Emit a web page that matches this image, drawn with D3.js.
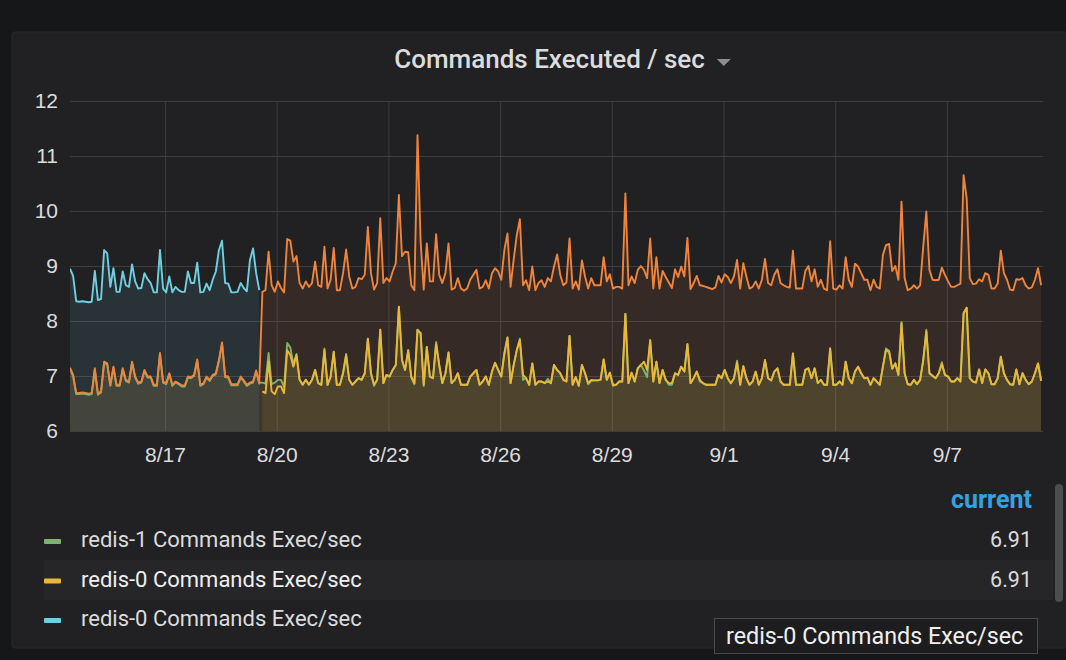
<!DOCTYPE html>
<html>
<head>
<meta charset="utf-8">
<script src="https://cdn.jsdelivr.net/npm/d3@7"></script>
<style>
  body { margin: 0; background: #161719; }
  svg { display: block; font-family: Roboto, "Helvetica Neue", Arial, sans-serif; }
</style>
</head>
<body>
<script>
// samples every 2 hours, starting 8/14 10:45
const startTime = new Date(2019, 7, 14, 10, 45);
const stepHours = 2;
const lastSlot = 313.6;   // right edge of the time range, in steps

const yTicks = [6, 7, 8, 9, 10, 11, 12];
const xTickDates = ["2019-08-17", "2019-08-20", "2019-08-23", "2019-08-26",
                    "2019-08-29", "2019-09-01", "2019-09-04", "2019-09-07"];

// redis-0 (cyan) - only the first days
const cyanValues = [
  8.95, 8.82, 8.36, 8.35, 8.36, 8.35, 8.34, 8.35, 8.91, 8.38,
  8.40, 9.29, 9.23, 8.62, 8.96, 8.53, 8.53, 8.90, 8.65, 8.62,
  9.03, 8.72, 8.59, 8.60, 8.87, 8.76, 8.69, 8.52, 8.52, 9.29,
  8.59, 8.52, 8.81, 8.52, 8.62, 8.56, 8.53, 8.53, 8.90, 8.69,
  8.69, 9.06, 8.52, 8.53, 8.68, 8.56, 8.75, 8.90, 9.29, 9.46,
  8.69, 8.68, 8.52, 8.52, 8.53, 8.69, 8.60, 8.54, 9.11, 9.32,
  8.87, 8.56
];

// orange series, whole range
const orangeValues = [
  7.15, 7.02, 6.69, 6.69, 6.70, 6.69, 6.68, 6.69, 7.14, 6.68,
  6.72, 7.26, 7.23, 6.84, 7.17, 6.84, 6.84, 7.14, 6.93, 6.90,
  7.26, 6.99, 6.88, 6.90, 7.11, 6.99, 6.99, 6.84, 6.84, 7.42,
  6.90, 6.87, 7.05, 6.84, 6.90, 6.87, 6.83, 6.83, 6.99, 6.98,
  7.02, 7.30, 6.84, 6.87, 6.99, 6.93, 7.02, 7.05, 7.29, 7.61,
  7.00, 6.99, 6.85, 6.85, 6.85, 6.99, 6.92, 6.84, 6.88, 6.90,
  7.10, 6.86,
  8.53, 8.56, 9.26, 8.65, 8.53, 8.72, 8.60, 8.52, 9.49, 9.46,
  9.08, 9.18, 8.69, 8.59, 8.72, 8.62, 8.69, 9.08, 8.65, 8.62,
  9.35, 8.59, 8.75, 9.33, 8.56, 8.56, 8.87, 9.30, 8.81, 8.59,
  8.62, 8.78, 8.76, 8.84, 9.71, 8.87, 8.57, 8.69, 9.87, 8.69,
  8.78, 8.72, 8.90, 9.05, 10.29, 9.18, 9.26, 9.25, 8.65, 8.56,
  11.38, 9.45, 8.57, 9.41, 8.72, 8.72, 9.58, 8.84, 8.69, 8.87,
  9.41, 8.57, 8.60, 8.78, 8.59, 8.55, 8.59, 8.75, 8.84, 8.93,
  8.59, 8.62, 8.74, 8.59, 8.87, 8.96, 8.90, 8.75, 9.29, 9.59,
  8.62, 9.12, 9.56, 9.85, 8.65, 8.74, 8.56, 8.99, 8.56, 8.69,
  8.74, 8.62, 8.78, 8.72, 8.99, 9.21, 8.84, 8.65, 8.70, 9.50,
  8.59, 8.72, 8.57, 9.10, 8.81, 8.59, 8.78, 8.65, 8.65, 8.65,
  9.16, 8.72, 8.85, 8.59, 8.62, 8.62, 8.59, 10.32, 8.65, 8.81,
  8.69, 8.93, 9.00, 8.93, 8.78, 9.50, 8.59, 9.16, 8.59, 8.91,
  8.80, 8.70, 8.60, 8.94, 8.80, 8.99, 8.81, 9.51, 8.58, 8.69,
  8.82, 8.65, 8.64, 8.62, 8.60, 8.58, 8.61, 8.82, 8.70, 8.85,
  8.80, 8.69, 8.81, 9.11, 8.59, 9.05, 8.81, 8.59, 8.62, 8.72,
  8.59, 8.75, 9.13, 8.69, 8.65, 8.84, 8.94, 8.69, 8.65, 8.62,
  8.61, 9.28, 8.59, 8.59, 8.59, 8.91, 9.00, 8.72, 8.94, 8.62,
  8.75, 8.59, 8.56, 9.45, 8.59, 8.57, 8.65, 8.59, 9.16, 8.75,
  8.62, 9.04, 8.99, 8.87, 8.75, 8.75, 8.56, 8.75, 8.62, 8.59,
  9.20, 9.38, 9.40, 8.91, 9.00, 8.75, 10.17, 8.78, 8.56, 8.59,
  8.65, 8.59, 8.65, 9.35, 9.99, 8.93, 8.75, 8.74, 8.75, 8.97,
  8.84, 8.72, 8.62, 8.62, 8.65, 8.68, 10.65, 10.23, 8.78, 8.67,
  8.68, 8.76, 8.72, 8.87, 8.84, 8.59, 8.59, 8.68, 9.28, 8.87,
  8.75, 8.57, 8.56, 8.76, 8.75, 8.78, 8.65, 8.59, 8.61, 8.75,
  8.96, 8.65
];

// redis-0 (yellow) starts at step 62
const yellowStart = 62;
const yellowValues = [
  6.72, 6.69, 7.26, 6.72, 6.67, 6.81, 6.81, 6.69, 7.47, 7.38,
  7.17, 7.38, 6.93, 6.84, 6.93, 6.84, 6.93, 7.11, 6.87, 6.84,
  7.47, 6.84, 6.99, 7.44, 6.84, 6.84, 7.05, 7.38, 6.93, 6.84,
  6.90, 6.96, 6.93, 7.05, 7.68, 7.05, 6.84, 6.93, 7.84, 6.87,
  7.02, 6.99, 7.11, 7.20, 8.26, 7.29, 7.11, 7.47, 6.99, 6.87,
  7.84, 7.78, 6.84, 7.53, 6.99, 6.96, 7.58, 7.20, 6.87, 7.05,
  7.43, 6.87, 6.93, 7.05, 6.84, 6.84, 6.84, 6.99, 7.05, 7.11,
  6.84, 6.90, 6.99, 6.84, 7.08, 7.24, 7.11, 6.99, 7.41, 7.70,
  6.87, 7.20, 7.47, 7.65, 7.02, 6.96, 6.84, 7.23, 6.84, 6.90,
  6.90, 6.87, 6.90, 6.87, 7.20, 7.11, 7.05, 6.93, 6.90, 7.73,
  6.84, 6.98, 6.82, 7.20, 7.05, 6.87, 6.93, 6.92, 6.92, 6.93,
  7.30, 6.93, 7.06, 6.84, 6.84, 6.90, 6.90, 8.13, 6.87, 7.06,
  6.90, 7.14, 7.20, 7.26, 7.11, 7.65, 6.90, 7.26, 6.87, 7.11,
  6.93, 6.87, 6.87, 7.05, 7.02, 7.17, 7.08, 7.58, 6.87, 6.96,
  7.08, 6.93, 6.87, 6.84, 6.84, 6.84, 6.84, 7.02, 6.96, 7.11,
  6.96, 6.87, 6.96, 7.24, 6.84, 7.18, 6.96, 6.84, 6.90, 7.08,
  6.84, 6.96, 7.29, 6.96, 6.92, 7.08, 7.14, 6.90, 6.84, 6.84,
  6.84, 7.41, 6.84, 6.84, 6.84, 7.11, 7.14, 6.96, 7.14, 6.87,
  6.93, 6.84, 6.84, 7.50, 6.84, 6.84, 6.90, 6.84, 7.26, 6.96,
  6.87, 7.08, 7.17, 7.05, 6.96, 6.97, 6.84, 6.96, 6.90, 6.84,
  7.17, 7.47, 7.44, 7.13, 7.23, 7.02, 7.96, 7.05, 6.85, 6.84,
  6.93, 6.85, 6.93, 7.29, 7.81, 7.05, 7.00, 6.96, 7.05, 7.22,
  7.02, 6.99, 6.90, 6.90, 6.96, 6.90, 8.14, 8.24, 6.96, 6.90,
  6.88, 7.12, 6.87, 7.12, 7.05, 6.85, 6.85, 6.96, 7.35, 7.05,
  6.93, 6.85, 6.84, 7.12, 6.85, 7.05, 6.93, 6.85, 6.90, 7.05,
  7.23, 6.91
];

// redis-1 (green), whole range
const greenValues = [
  7.13, 7.00, 6.67, 6.67, 6.68, 6.67, 6.66, 6.67, 7.12, 6.66,
  6.70, 7.24, 7.21, 6.82, 7.15, 6.82, 6.82, 7.12, 6.91, 6.88,
  7.24, 6.97, 6.86, 6.88, 7.09, 6.97, 6.97, 6.82, 6.82, 7.40,
  6.88, 6.85, 7.03, 6.82, 6.88, 6.85, 6.81, 6.81, 6.97, 6.96,
  7.00, 7.28, 6.82, 6.85, 6.97, 6.91, 7.00, 7.03, 7.27, 7.59,
  6.98, 6.97, 6.83, 6.83, 6.83, 6.97, 6.90, 6.82, 6.86, 6.88,
  7.08, 6.88,
  6.88, 6.86, 7.42, 6.85, 6.88, 6.93, 6.93, 6.80, 7.60, 7.52,
  7.22, 7.40, 6.93, 6.84, 6.93, 6.84, 6.93, 7.11, 6.87, 6.84,
  7.50, 6.84, 6.99, 7.44, 6.84, 6.84, 7.05, 7.40, 6.93, 6.84,
  6.90, 6.96, 6.93, 7.05, 7.68, 7.05, 6.82, 6.93, 7.84, 6.87,
  7.02, 6.99, 7.11, 7.20, 8.26, 7.29, 7.11, 7.47, 6.97, 6.85,
  7.84, 7.78, 6.82, 7.53, 6.99, 6.96, 7.62, 7.20, 6.87, 7.05,
  7.43, 6.87, 6.93, 7.05, 6.84, 6.84, 6.84, 6.99, 7.05, 7.11,
  6.84, 6.90, 6.99, 6.84, 7.08, 7.24, 7.11, 6.99, 7.41, 7.70,
  6.87, 7.20, 7.47, 7.68, 6.93, 6.96, 6.84, 7.23, 6.84, 6.90,
  6.90, 6.87, 6.95, 6.87, 7.20, 7.11, 7.05, 6.93, 6.90, 7.73,
  6.84, 6.98, 6.82, 7.20, 7.05, 6.85, 6.91, 6.92, 6.92, 6.93,
  7.30, 6.93, 7.06, 6.82, 6.84, 6.90, 6.90, 8.13, 6.87, 7.06,
  6.90, 7.14, 7.20, 7.10, 6.98, 7.65, 6.90, 7.26, 6.87, 7.11,
  6.93, 6.84, 6.84, 7.05, 7.02, 7.17, 7.08, 7.58, 6.87, 6.96,
  7.08, 6.90, 6.87, 6.84, 6.84, 6.84, 6.84, 7.02, 6.96, 7.11,
  6.96, 6.87, 6.96, 7.28, 6.84, 7.18, 6.96, 6.84, 6.90, 7.08,
  6.84, 6.96, 7.29, 6.96, 6.92, 7.08, 7.14, 6.90, 6.84, 6.84,
  6.84, 7.41, 6.84, 6.84, 6.84, 7.11, 7.14, 6.96, 7.14, 6.87,
  6.93, 6.84, 6.84, 7.50, 6.84, 6.84, 6.90, 6.84, 7.26, 6.96,
  6.87, 7.08, 7.17, 7.05, 6.96, 6.97, 6.84, 6.96, 6.90, 6.84,
  7.17, 7.50, 7.46, 7.13, 7.23, 7.02, 7.98, 7.05, 6.85, 6.84,
  6.93, 6.85, 6.93, 7.29, 7.84, 7.05, 7.01, 6.96, 7.05, 7.25,
  7.02, 6.99, 6.90, 6.90, 6.96, 6.90, 8.14, 8.24, 6.96, 6.90,
  6.88, 7.12, 6.87, 7.12, 7.05, 6.85, 6.85, 6.96, 7.35, 7.05,
  6.93, 6.85, 6.84, 7.12, 6.85, 7.05, 6.93, 6.85, 6.90, 7.05,
  7.23, 6.91
];

// legend rows that are visible (the rest is scrolled away)
const legendNames = ["redis-1 Commands Exec/sec", "redis-0 Commands Exec/sec", "redis-0 Commands Exec/sec"];
const legendColors = ["#7EB26D", "#EAB839", "#6ED0E0"];
const legendCurrent = ["6.91", "6.91", ""];
const tooltipText = "redis-0 Commands Exec/sec";

const series = [
  {color: "#7EB26D", start: 0, values: greenValues},
  {color: "#EAB839", start: yellowStart, values: yellowValues},
  {color: "#6ED0E0", start: 0, values: cyanValues},
  {color: "#EF843C", start: 0, values: orangeValues}
];

const W = 1066, H = 660;
const plotL = 70, plotR = 1043, plotT = 101, plotB = 431;
const textCol = "#dcdcdd";

const svg = d3.select("body").append("svg").attr("width", W).attr("height", H);
svg.append("rect").attr("width", W).attr("height", H).attr("fill", "#161719");

// panel
svg.append("rect").attr("x", 12).attr("y", 32).attr("width", 1080).attr("height", 616)
  .attr("rx", 3).attr("fill", "#212124").attr("stroke", "#28282b");

// title
const title = svg.append("text").attr("x", 549.5).attr("y", 68)
  .attr("text-anchor", "middle").attr("fill", textCol)
  .style("font-size", "26px").style("font-weight", 500)
  .text("Commands Executed / sec");
const tb = title.node().getBBox();
const cx = tb.x + tb.width + 19;
svg.append("path").attr("d", `M${cx-7},59 L${cx+7},59 L${cx},66 Z`).attr("fill", "#8e8e90");

const timeOf = i => new Date(+startTime + i * stepHours * 3600e3);
const x = d3.scaleTime().domain([startTime, timeOf(lastSlot)]).range([plotL, plotR]);
const y = d3.scaleLinear().domain([6, 12]).range([plotB, plotT]);

// grid + axes
const yAxis = svg.append("g").attr("transform", `translate(${plotL},0)`)
  .call(d3.axisLeft(y).tickValues(yTicks).tickSize(-(plotR - plotL)).tickPadding(12).tickFormat(d3.format("d")));
const xAxis = svg.append("g").attr("transform", `translate(0,${plotB})`)
  .call(d3.axisBottom(x).tickValues(xTickDates.map(d => d3.timeParse("%Y-%m-%d")(d)))
    .tickSize(-(plotB - plotT)).tickPadding(16).tickFormat(d3.timeFormat("%-m/%-d")));
[yAxis, xAxis].forEach(g => {
  g.select(".domain").remove();
  g.selectAll("line").attr("stroke", "#3e3e41").attr("stroke-width", 1);
  g.selectAll("text").attr("fill", textCol).style("font-size", "21px");
});

// series
svg.append("clipPath").attr("id", "plot").append("rect")
  .attr("x", plotL).attr("y", plotT).attr("width", plotR - plotL).attr("height", plotB - plotT);
const plot = svg.append("g").attr("clip-path", "url(#plot)");

series.forEach(s => {
  const pts = s.values.map((v, i) => ({t: timeOf(s.start + i), v: v}));
  plot.append("path").datum(pts)
    .attr("fill", s.color).attr("fill-opacity", 0.1)
    .attr("d", d3.area().x(d => x(d.t)).y0(y(6)).y1(d => y(d.v)));
});
series.forEach(s => {
  const pts = s.values.map((v, i) => ({t: timeOf(s.start + i), v: v}));
  plot.append("path").datum(pts)
    .attr("fill", "none").attr("stroke", s.color).attr("stroke-width", 1.9)
    .attr("stroke-linejoin", "round")
    .attr("d", d3.line().x(d => x(d.t)).y(d => y(d.v)));
});

// legend
svg.append("text").attr("x", 1032).attr("y", 508).attr("text-anchor", "end")
  .attr("fill", "#33a2e5").style("font-size", "25px").style("font-weight", 700).text("current");

svg.append("rect").attr("x", 44).attr("y", 560).attr("width", 1009).attr("height", 40).attr("fill", "#262629");

legendNames.forEach((name, i) => {
  const by = 547 + i * 39.5;
  svg.append("rect").attr("x", 44).attr("y", by - 8).attr("width", 17).attr("height", 5)
    .attr("rx", 1).attr("fill", legendColors[i]);
  svg.append("text").attr("x", 81).attr("y", by).attr("fill", i === 1 ? "#f0f0f1" : textCol)
    .style("font-size", "22px").text(name);
  svg.append("text").attr("x", 1032).attr("y", by).attr("text-anchor", "end")
    .attr("fill", textCol).style("font-size", "21.5px").text(legendCurrent[i]);
});

// scrollbar
svg.append("rect").attr("x", 1055).attr("y", 484).attr("width", 8).attr("height", 118)
  .attr("rx", 4).attr("fill", "#4d4d50");

// hover tooltip
svg.append("rect").attr("x", 714.5).attr("y", 618.5).attr("width", 323).attr("height", 35)
  .attr("fill", "#1d1d1f").attr("stroke", "#4a4a4d");
svg.append("text").attr("x", 726).attr("y", 644).attr("fill", "#f0f0f1")
  .style("font-size", "23.3px").text(tooltipText);
</script>
</body>
</html>
